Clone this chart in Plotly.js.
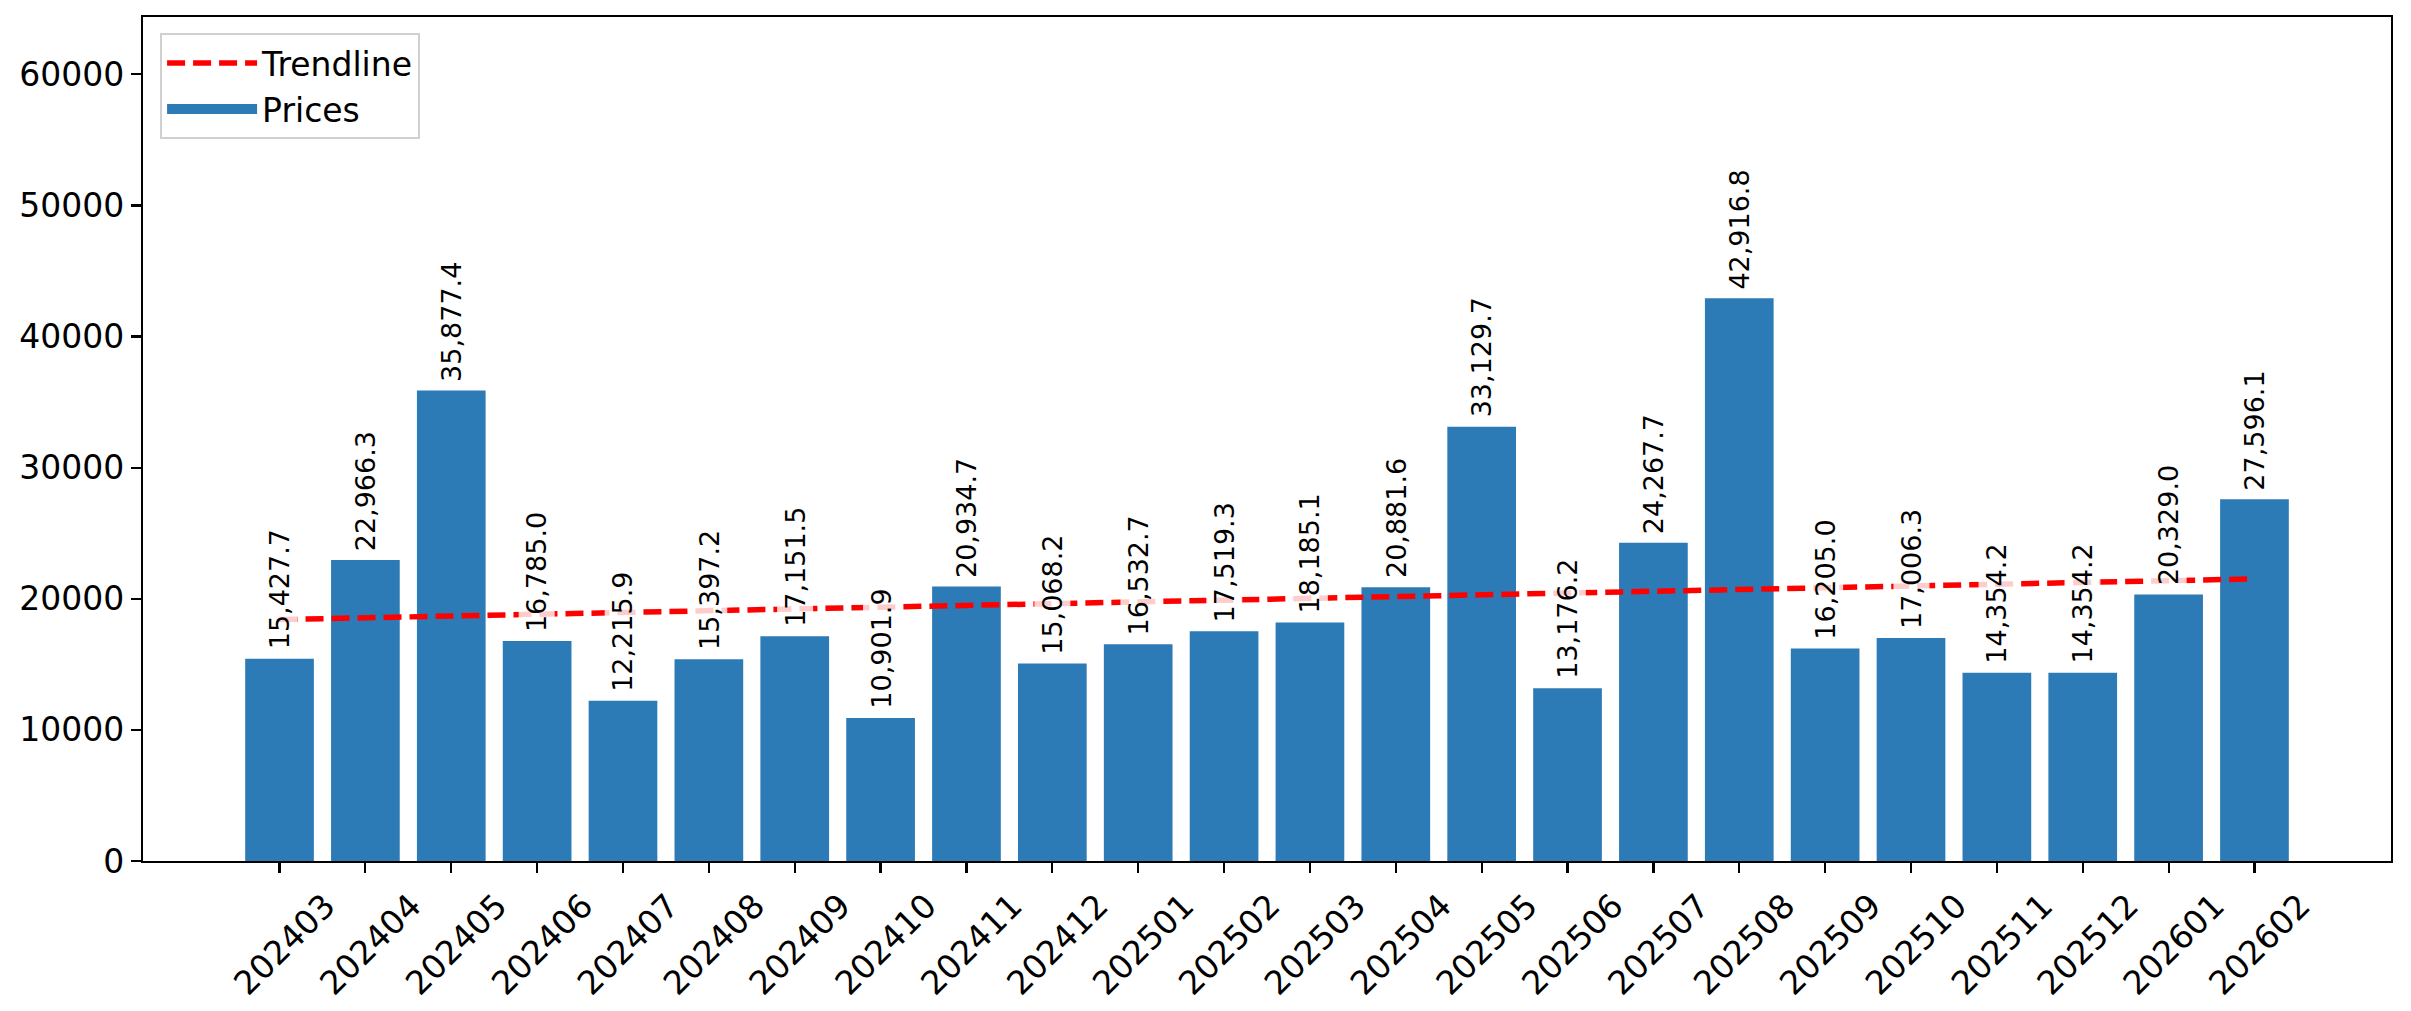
<!DOCTYPE html>
<html>
<head>
<meta charset="utf-8">
<script src="https://cdn.plot.ly/plotly-3.0.1.min.js"></script>
<style>
  body { margin: 0; background: #fff; }
  #chart { width: 2411px; height: 1011px; }
</style>
</head>
<body>
<div id="chart"></div>
<script>
// months (x categories)
var months = ['202403', '202404', '202405', '202406', '202407', '202408', '202409', '202410',
              '202411', '202412', '202501', '202502', '202503', '202504', '202505', '202506',
              '202507', '202508', '202509', '202510', '202511', '202512', '202601', '202602'];

// bar heights
var prices = [15427.7, 22966.3, 35877.4, 16785.0, 12215.9, 15397.2, 17151.5, 10901.9,
              20934.7, 15068.2, 16532.7, 17519.3, 18185.1, 20881.6, 33129.7, 13176.2,
              24267.7, 42916.8, 16205.0, 17006.3, 14354.2, 14354.2, 20329.0, 27596.1];

// trendline end points (first and last month)
var trendX = ['202403', '202602'];
var trendY = [18416, 21516];

var yTicks = [0, 10000, 20000, 30000, 40000, 50000, 60000];

var font = 'DejaVu Sans, sans-serif';
var barColor = '#2c7bb6';

function fmt(v) {
  var s = v.toFixed(1).split('.');
  return s[0].replace(/\B(?=(\d{3})+(?!\d))/g, ',') + '.' + s[1];
}

var data = [
  {
    name: 'Trendline',
    x: trendX,
    y: trendY,
    type: 'scatter',
    mode: 'lines',
    line: {color: '#ff0000', width: 5.5, dash: '18px,8px'}
  },
  {
    // legend entry only: a thick line looks like the wide matplotlib patch
    name: 'Prices',
    x: [null],
    y: [null],
    type: 'scatter',
    mode: 'lines',
    line: {color: barColor, width: 24}
  },
  {
    name: 'Prices',
    x: months,
    y: prices,
    type: 'bar',
    showlegend: false,
    marker: {color: barColor, line: {width: 0}}
  }
];

// value labels above bars, white half-clear box like the original
// x given as category index (numeric-looking names are not matched as categories)
var labels = months.map(function (m, i) {
  return {
    x: i,
    y: prices[i],
    text: fmt(prices[i]),
    textangle: -90,
    xanchor: 'center',
    yanchor: 'bottom',
    yshift: 6,
    showarrow: false,
    bgcolor: 'rgba(255,255,255,0.8)',
    borderpad: 2,
    font: {family: font, size: 27, color: '#000'}
  };
});

var axisStyle = {
  showline: true,
  linecolor: '#000',
  linewidth: 2.2,
  mirror: true,
  ticks: 'outside',
  ticklen: 10,
  tickwidth: 2.2,
  tickcolor: '#000',
  showgrid: false,
  zeroline: false,
  tickfont: {family: font, size: 33, color: '#000'}
};

var layout = {
  width: 2411,
  height: 1011,
  margin: {l: 143, r: 20, t: 17, b: 150, pad: 0},
  paper_bgcolor: '#fff',
  plot_bgcolor: '#fff',
  font: {family: font, color: '#000'},
  bargap: 0.2,
  showlegend: true,
  legend: {
    x: 0.0076, y: 0.981,
    xanchor: 'left', yanchor: 'top',
    bgcolor: 'rgba(255,255,255,0.8)',
    bordercolor: '#d0d0d0',
    borderwidth: 2,
    itemwidth: 90,
    font: {family: font, size: 33, color: '#000'}
  },
  xaxis: Object.assign({}, axisStyle, {
    type: 'category',
    categoryorder: 'array',
    categoryarray: months,
    range: [-1.59, 24.59],
    tickangle: -45,
    ticklabelshift: 46
  }),
  yaxis: Object.assign({}, axisStyle, {
    range: [0, 64375],
    tickmode: 'array',
    tickvals: yTicks,
    ticktext: yTicks.map(String)
  }),
  annotations: labels
};

Plotly.newPlot('chart', data, layout, {staticPlot: true});
</script>
</body>
</html>
